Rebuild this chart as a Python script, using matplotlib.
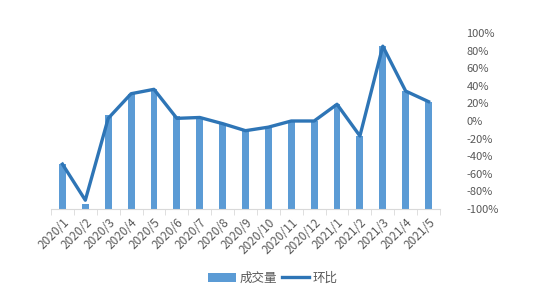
import numpy as np
import matplotlib
matplotlib.use('Agg')
import matplotlib.pyplot as plt
from matplotlib.ticker import FuncFormatter

plt.rcParams['font.family'] = ['Noto Sans CJK SC', 'DejaVu Sans']

# Data
months = ['2020/1', '2020/2', '2020/3', '2020/4', '2020/5', '2020/6', '2020/7', '2020/8', '2020/9',
          '2020/10', '2020/11', '2020/12', '2021/1', '2021/2', '2021/3', '2021/4', '2021/5']
volume = [51, 6, 107, 131, 136, 106, 104, 97, 89, 93, 100, 100, 119, 83, 185, 134, 122]
mom_pct = [-49, -90, 3, 31, 36, 3, 4, -3, -11, -7, 0, 0, 19, -17, 85, 34, 22]

bar_color = '#5b9bd5'
line_color = '#2e75b6'
grey = '#595959'

fig = plt.figure(figsize=(5.46, 3.03), dpi=100)
ax = fig.add_axes([51/546, 1 - 209/303, (440 - 51)/546, (209 - 33)/303])
x = np.arange(len(months))

# bars on hidden primary axis
ax.bar(x, volume, width=0.3, color=bar_color, label='成交量', zorder=2)
ax.set_ylim(0, 200)
ax.set_xlim(-0.5, len(months) - 0.5)
ax.set_yticks([])
for s in ['top', 'right', 'left']:
    ax.spines[s].set_visible(False)
ax.spines['bottom'].set_color('#d9d9d9')
ax.set_xticks(x)
ax.set_xticklabels(months, rotation=45, ha='right', rotation_mode='anchor',
                   fontsize=8.5, color=grey)
ax.tick_params(axis='x', length=0, pad=5)
ax.set_xticks(np.arange(-0.5, len(months)), minor=True)
ax.tick_params(axis='x', which='minor', length=4, color='#d9d9d9')

# line on right axis
ax2 = ax.twinx()
ax2.plot(x, mom_pct, color=line_color, lw=2.4, label='环比', zorder=3)
ax2.set_ylim(-100, 100)
ax2.set_yticks(np.arange(-100, 101, 20))
ax2.yaxis.set_major_formatter(FuncFormatter(lambda v, p: f'{v:.0f}%'))
ax2.tick_params(axis='y', length=0, pad=19, labelsize=8, labelcolor=grey)
for t in ax2.get_yticklabels():
    t.set_horizontalalignment('left')
for s in ax2.spines.values():
    s.set_visible(False)

h1, l1 = ax.get_legend_handles_labels()
h2, l2 = ax2.get_legend_handles_labels()
fig.legend(h1 + h2, l1 + l2, loc='center', bbox_to_anchor=(0.5, 1 - 278/303), ncol=2,
           frameon=False, fontsize=9, labelcolor=grey, handlelength=2.2,
           handletextpad=0.3, columnspacing=0.4)

fig.savefig('out.png', dpi=100)
